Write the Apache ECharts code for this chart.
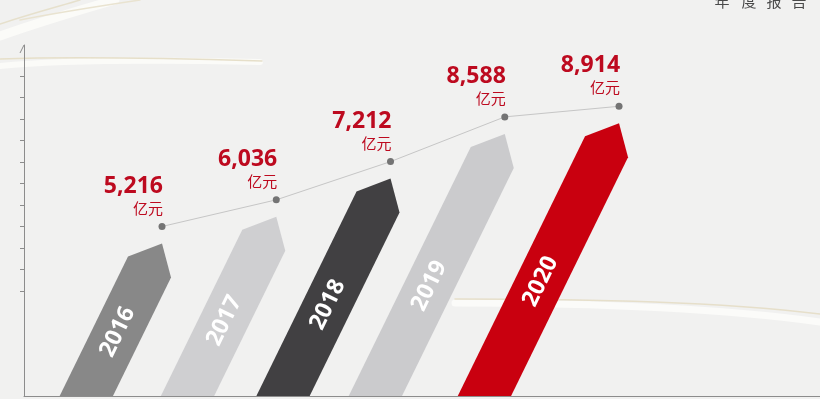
<!DOCTYPE html>
<html><head><meta charset="utf-8">
<script src="https://cdn.jsdelivr.net/npm/echarts@6/dist/echarts.min.js"></script>
<style>html,body{margin:0;padding:0;background:#f1f1f0;}#c{width:820px;height:399px;}</style>
</head><body><div id="c"></div>
<script>
// ---- data ----
const years = ['2016', '2017', '2018', '2019', '2020'];
const values = [5216, 6036, 7212, 8588, 8914];
const unitLabel = '亿元';
const headerChars = ['年', '度', '报', '告'];

// ---- style ----
const barColors = ['#888888', '#cfcfd1', '#414042', '#cbcbcd', '#c9000f'];
const RED = '#bd0a1f';
const SLANT = 0.49;   // horizontal shift per vertical px of the arrow body
const TIP_GAP = 17;   // px between the line point and the arrow tip

function renderArrow(params, api) {
  const i = params.dataIndex;
  const p = api.coord([api.value(0), api.value(1)]);
  const base = api.coord([api.value(0), 0])[1];
  const tip = [p[0], p[1] + TIP_GAP];
  const L = [tip[0] - 34, tip[1] + 13];
  const R = [tip[0] + 9, tip[1] + 34];
  const BL = [L[0] - SLANT * (base - L[1]), base];
  const BR = [R[0] - SLANT * (base - R[1]), base];
  const ty = tip[1] + 0.58 * (base - tip[1]);
  const lx = L[0] - SLANT * (ty - L[1]);
  const rx = R[0] - SLANT * (ty - R[1]);
  return {
    type: 'group',
    children: [
      { type: 'polygon', shape: { points: [BL, L, tip, R, BR] }, style: { fill: barColors[i] } },
      { type: 'text', x: (lx + rx) / 2, y: ty, rotation: Math.atan2(1, SLANT),
        style: { text: years[i], fill: '#ffffff', fontSize: 23, fontWeight: 'bold',
                 fontFamily: 'Open Sans', align: 'center', verticalAlign: 'middle' } }
    ]
  };
}

const pairs = years.map((y, i) => [Number(y), values[i]]);

const streak = (pts, color, w) => ({
  type: 'bezierCurve', silent: true, z: -10,
  shape: { x1: pts[0], y1: pts[1], cpx1: pts[2], cpy1: pts[3], cpx2: pts[4], cpy2: pts[5], x2: pts[6], y2: pts[7] },
  style: { stroke: color, lineWidth: w, fill: null, lineCap: 'round' }
});

const graphics = [
  streak([0, 36, 40, 22, 80, 10, 115, 0], '#fbfbf8', 9),
  streak([0, 24, 30, 14, 60, 6, 80, 0], '#e6e0cc', 1.5),
  streak([20, 20, 60, 12, 100, 6, 140, 0], '#e9e3d0', 1.5),
  streak([0, 66, 60, 60, 160, 60, 260, 62], '#fbfbf8', 6),
  streak([0, 59, 60, 57, 160, 58, 262, 61], '#e6dfc9', 1.5),
  streak([455, 303, 600, 303, 720, 308, 820, 322], '#fbfbf9', 7),
  streak([455, 299, 600, 299, 720, 302, 820, 314], '#e6dfca', 1.5),
  { type: 'line', shape: { x1: 24, y1: 45, x2: 20, y2: 53 }, style: { stroke: '#8c8c8c', lineWidth: 1 } }
];
const headerX = [722, 749, 774, 799];
headerChars.forEach((ch, i) => graphics.push({
  type: 'text', x: headerX[i], y: 9,
  style: { text: ch, fill: '#4a4a4a', fontSize: 15, fontFamily: 'Noto Sans CJK SC', align: 'center', verticalAlign: 'bottom' }
}));

const chart = echarts.init(document.getElementById('c'), null, { renderer: 'canvas' });
chart.setOption({
  backgroundColor: '#f1f1f0',
  animation: false,
  graphic: graphics,
  grid: [
    { left: 24, right: 0, top: 45, bottom: 3 },
    { left: 24, right: 0, top: 76, bottom: 108 }
  ],
  xAxis: [
    { type: 'value', gridIndex: 0, min: 2014.792, max: 2021.759,
      axisLine: { show: true, onZero: false, lineStyle: { color: '#8c8c8c', width: 1 } },
      axisTick: { show: false }, axisLabel: { show: false }, splitLine: { show: false } },
    { type: 'value', gridIndex: 1, show: false }
  ],
  yAxis: [
    { type: 'value', gridIndex: 0, min: 0, max: 10800,
      axisLine: { show: true, lineStyle: { color: '#8c8c8c', width: 1 } },
      axisTick: { show: false }, axisLabel: { show: false }, splitLine: { show: false } },
    { type: 'value', gridIndex: 1, min: 0, max: 10, interval: 1,
      axisLine: { show: false },
      axisTick: { show: true, length: 4, lineStyle: { color: '#8c8c8c' } },
      axisLabel: { show: false }, splitLine: { show: false } }
  ],
  series: [
    { type: 'custom', xAxisIndex: 0, yAxisIndex: 0, data: pairs, renderItem: renderArrow, z: 2 },
    { type: 'line', xAxisIndex: 0, yAxisIndex: 0, data: pairs, z: 3,
      symbol: 'circle', symbolSize: 7,
      itemStyle: { color: '#747474' },
      lineStyle: { color: '#c6c6c6', width: 1 },
      label: {
        show: true, position: 'top', distance: 6, align: 'right', offset: [1, 0],
        formatter: p => `{n|${p.value[1].toLocaleString('en-US')}}\n{u|${unitLabel}}`,
        rich: {
          n: { fontSize: 23, fontWeight: 'bold', fontFamily: 'Open Sans', color: RED, lineHeight: 26, align: 'right' },
          u: { fontSize: 15, fontFamily: 'Noto Sans CJK SC', color: RED, lineHeight: 18, align: 'right' }
        }
      }
    }
  ]
});
</script>
</body></html>
